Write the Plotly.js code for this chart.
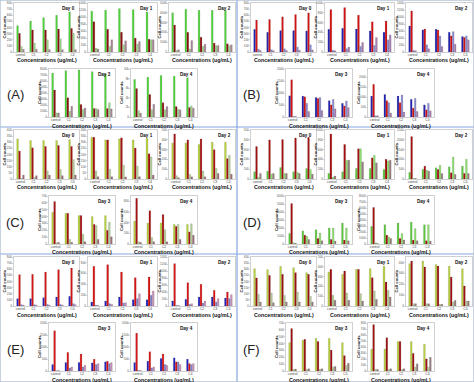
<!DOCTYPE html>
<html><head><meta charset="utf-8">
<script src="https://cdn.plot.ly/plotly-3.0.1.min.js"></script>
<style>html,body{margin:0;padding:0;background:#fff}#chart{width:474px;height:382px}</style>
</head><body><div id="chart"></div><script>
const categories = ['control','C1','C2','C3','C4'];
const dayLabels = ['Day 0','Day 1','Day 2','Day 3','Day 4'];
const panelLabels = ['(A)','(B)','(C)','(D)','(E)','(F)'];
const xTitle = 'Concentrations (ug/mL)';
const yTitle = 'Cell counts';

// Panel A (rows = Day 0..4, columns = categories)
const A_s1 = [[430,505,560,600,655],[1165,1195,1240,1210,1145],[4000,4360,4260,4260,4260],[7320,7720,7830,7550,7150],[7820,8300,8640,8500,8160]];
const A_s2 = [[305,360,360,375,385],[865,650,565,395,365],[2750,2010,1510,905,840],[4500,3210,2080,1410,1410],[5920,4690,2990,2180,1970]];
const A_s3 = [[90,145,200,215,305],[115,160,205,225,350],[170,300,570,640,640],[680,960,1240,1410,2370],[1290,1500,1500,1630,2310]];
const A_s4 = [[45,45,40,40,40],[85,350,320,300,350],[235,1170,800,670,740],[680,1800,1520,1240,1350],[820,2650,2180,1500,1840]];
const A_ymax = [800,1400,5000,8000,10000];

// Panel B
const B_s1 = [[370,322,349,349,344],[463,483,470,430,403],[742,630,649,565,442],[884,870,816,680,571],[1045,1127,1045,882,604]];
const B_s2 = [[521,531,574,612,639],[866,906,752,617,631],[1174,658,630,460,414],[1551,843,775,503,462],[1633,816,718,441,359]];
const B_s3 = [[48,38,54,80,118],[34,67,114,134,248],[47,207,460,582,460],[27,571,816,734,667],[65,718,1094,931,686]];
const B_s4 = [[27,22,27,30,35],[27,100,195,295,349],[38,94,160,225,348],[27,231,272,340,394],[65,196,245,277,310]];
const B_ymax = [800,1000,1400,2000,2400];

// Panel C
const C_s1 = [[327,314,314,314,322],[341,319,327,319,333],[366,366,352,376,376],[462,448,414,400,414],[429,392,392,367,367]];
const C_s2 = [[228,255,266,274,266],[341,319,336,252,207],[460,399,409,299,208],[619,448,414,286,200],[857,624,551,331,227]];
const C_s3 = [[5,13,67,78,158],[67,80,113,105,180],[34,47,81,107,242],[19,67,143,271,319],[43,122,269,367,380]];
const C_s4 = [[32,27,32,27,32],[19,19,17,19,32],[13,23,23,57,50],[24,24,33,67,105],[31,43,43,86,165]];
const C_ymax = [400,400,500,700,900];

// Panel D
const D_s1 = [[74,80,117,74,107],[114,148,215,215,195],[336,487,570,620,654],[1306,1633,1796,2000,2612],[2939,3211,3483,3646,3211]];
const D_s2 = [[332,399,403,419,426],[919,705,617,430,403],[2164,654,487,319,285],[5061,1102,694,571,490],[6095,1469,925,653,544]];
const D_s3 = [[17,50,57,67,97],[34,383,617,483,369],[34,453,705,1124,1007],[163,980,1388,2000,2000],[218,1197,1741,2558,3211]];
const D_s4 = [[57,57,57,57,50],[60,383,349,329,383],[34,403,285,235,285],[100,571,408,367,408],[100,925,653,544,490]];
const D_ymax = [500,1000,2500,6000,8000];

// Panel E
const E_s1 = [[120,120,136,147,158],[73,92,165,116,116],[143,190,257,257,228],[268,352,352,338,380],[352,408,521,549,493]];
const E_s2 = [[512,517,555,593,620],[729,759,624,520,532],[1210,667,619,448,400],[1676,775,704,493,408],[1577,803,704,380,310]];
const E_s3 = [[22,22,27,27,38],[12,43,55,135,196],[19,48,86,114,210],[10,127,169,268,310],[28,127,268,380,268]];
const E_s4 = [[16,16,16,16,22],[12,30,61,226,275],[19,67,143,210,324],[28,169,239,310,352],[28,169,239,268,310]];
const E_ymax = [800,900,1400,2000,2000];

// Panel F
const F_s1 = [[305,297,324,313,272],[347,323,374,381,405],[389,413,380,367,343],[414,448,476,476,414],[365,365,490,490,446]];
const F_s2 = [[229,250,259,272,259],[374,357,374,289,245],[413,358,367,266,184],[619,462,429,305,224],[773,555,490,294,202]];
const F_s3 = [[95,106,87,114,79],[109,133,126,153,160],[21,21,15,37,46],[24,24,24,57,81],[27,27,27,65,65]];
const F_s4 = [[33,27,33,33,33],[58,58,51,68,92],[21,21,15,52,46],[29,33,33,67,114],[27,38,38,120,229]];
const F_ymax = [400,500,450,700,800];

const panels = [
  {s:[A_s1,A_s2,A_s3,A_s4], ymax:A_ymax, colors:['#4fd63a','#8e1010','#9fd68a','#a88898']},
  {s:[B_s1,B_s2,B_s3,B_s4], ymax:B_ymax, colors:['#2424b4','#d81414','#8c8cd2','#a882b0']},
  {s:[C_s1,C_s2,C_s3,C_s4], ymax:C_ymax, colors:['#b8d43a','#ac1212','#b4d09a','#a07080']},
  {s:[D_s1,D_s2,D_s3,D_s4], ymax:D_ymax, colors:['#5ccc3c','#a81010','#8ee070','#9a8080']},
  {s:[E_s1,E_s2,E_s3,E_s4], ymax:E_ymax, colors:['#2626c0','#dc1616','#8484d0','#c894b8']},
  {s:[F_s1,F_s2,F_s3,F_s4], ymax:F_ymax, colors:['#bcd444','#a01212','#b4cc98','#988080']}
];

const W = 474, H = 382;
const offsets = [[0,0],[237,0],[0,127],[237,127],[0,254],[237,254]];
const boxes = [[14,79,3,52],[88,157,3,52],[169,235,3,52],[49,115,69,117],[131,197,69,117]];
const fx = p => p / W, fy = p => 1 - p / H;

const traces = [];
const layout = {
  width: W, height: H, margin:{l:0,r:0,t:0,b:0},
  paper_bgcolor:'#ffffff', plot_bgcolor:'#ffffff',
  showlegend:false, barmode:'group', bargap:0.4, bargroupgap:0.1,
  font:{family:'Liberation Sans, Arial, sans-serif', color:'#222'},
  annotations:[], shapes:[]
};

panels.forEach((p, pi) => {
  const [ox, oy] = offsets[pi];
  for (let d = 0; d < 5; d++) {
    const idx = pi*5 + d + 1;
    const sfx = idx === 1 ? '' : String(idx);
    const [l, r, t, b] = boxes[d];
    for (let k = 0; k < 4; k++) {
      traces.push({
        type:'bar', x:categories, y:p.s[k][d], xaxis:'x'+sfx, yaxis:'y'+sfx,
        marker:{color:p.colors[k], line:{color:'rgba(0,0,0,0.35)', width:0.3}},
        hoverinfo:'skip'
      });
    }
    layout['xaxis'+sfx] = {
      domain:[fx(ox+l), fx(ox+r)], anchor:'y'+sfx, showline:true, mirror:true,
      linecolor:'#b0b0b0', linewidth:0.6, ticks:'', showgrid:false, zeroline:false,
      tickfont:{size:3.2, color:'#444'}, ticklabelstandoff:0, fixedrange:true
    };
    layout['yaxis'+sfx] = {
      domain:[fy(oy+b), fy(oy+t)], anchor:'x'+sfx, range:[0, p.ymax[d]],
      showline:true, mirror:true, linecolor:'#b0b0b0', linewidth:0.6,
      ticks:'outside', ticklen:1, tickwidth:0.4, tickcolor:'#888',
      showgrid:false, zeroline:false, nticks:9,
      tickfont:{size:3, color:'#555'}, ticklabelstandoff:0, fixedrange:true
    };
    layout.annotations.push({
      xref:'x'+sfx+' domain', yref:'y'+sfx+' domain', x:0.97, y:0.98,
      xanchor:'right', yanchor:'top', showarrow:false,
      text:'<b>'+dayLabels[d]+'</b>', font:{size:4.6, color:'#111'}
    });
    layout.annotations.push({
      xref:'paper', yref:'paper', x:fx(ox+(l+r)/2), y:fy(oy+b+8.5),
      xanchor:'center', yanchor:'middle', showarrow:false,
      text:'<b>'+xTitle+'</b>', font:{size:5.3, color:'#111'}
    });
    layout.annotations.push({
      xref:'paper', yref:'paper', x:fx(ox+l-10), y:fy(oy+(t+b)/2),
      xanchor:'center', yanchor:'middle', showarrow:false, textangle:-90,
      text:'<b>'+yTitle+'</b>', font:{size:4.2, color:'#111'}
    });
  }
  layout.annotations.push({
    xref:'paper', yref:'paper', x:fx(ox+15), y:fy(oy+95),
    xanchor:'center', yanchor:'middle', showarrow:false,
    text:panelLabels[pi], font:{size:13, color:'#222'}
  });
});

const lineCol = '#86a6de';
layout.shapes.push({type:'line', xref:'paper', yref:'paper', x0:fx(237), x1:fx(237), y0:0, y1:1, line:{color:lineCol, width:1.2}});
layout.shapes.push({type:'line', xref:'paper', yref:'paper', x0:0, x1:1, y0:fy(127), y1:fy(127), line:{color:lineCol, width:1.2}});
layout.shapes.push({type:'line', xref:'paper', yref:'paper', x0:0, x1:1, y0:fy(254), y1:fy(254), line:{color:lineCol, width:1.2}});
layout.shapes.push({type:'rect', xref:'paper', yref:'paper', x0:0, x1:1, y0:0, y1:1, line:{color:'#b8c4d8', width:1.5}});

Plotly.newPlot('chart', traces, layout, {staticPlot:true, displayModeBar:false});
</script></body></html>
